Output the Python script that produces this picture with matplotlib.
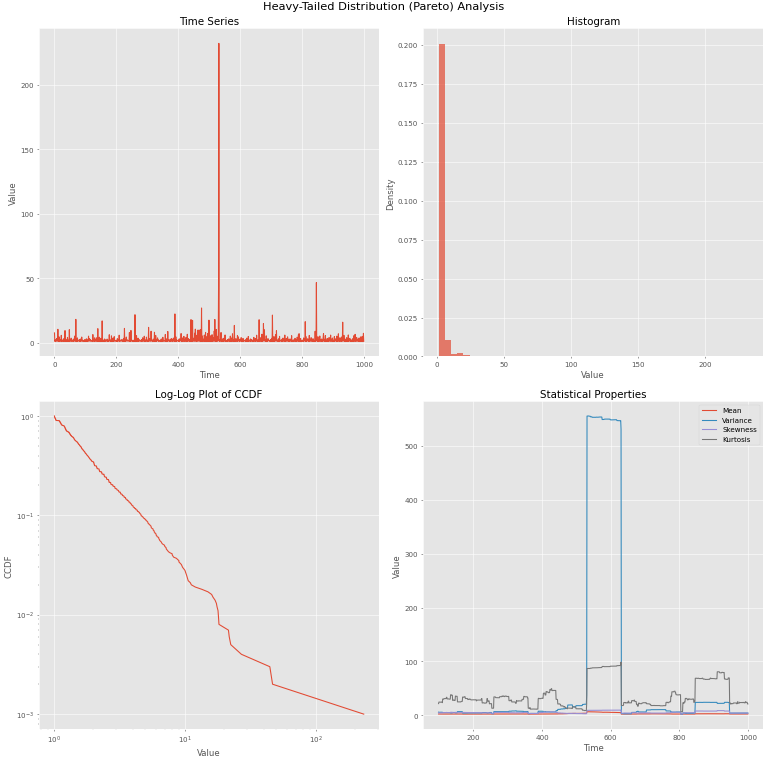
import numpy as np
import pandas as pd
import matplotlib
matplotlib.use("Agg")
import matplotlib.pyplot as plt

plt.style.use("ggplot")

# Values (index = time step)
series_values = [
    7.70, 1.21, 1.03, 2.34, 1.42, 1.12, 1.63, 3.41, 1.74, 1.31, 2.08, 10.50, 1.18, 1.84, 1.46, 4.62, 1.01, 1.55, 2.61, 1.27,
    1.14, 1.36, 5.83, 1.02, 1.72, 2.19, 1.24, 1.58, 1.47, 3.12, 1.11, 1.93, 1.33, 2.72, 9.50, 1.04, 1.22, 1.51, 2.43, 1.38,
    1.62, 1.05, 4.21, 1.29, 1.13, 2.02, 1.88, 1.19, 10.20, 1.41, 1.02, 2.53, 1.54, 1.77, 3.61, 1.25, 1.67, 1.34, 2.24, 1.49,
    1.11, 1.03, 2.91, 1.44, 1.23, 5.24, 1.79, 1.68, 1.32, 18.20, 1.15, 2.31, 1.01, 1.53, 3.82, 1.20, 1.95, 2.14, 1.58, 1.36,
    1.35, 2.63, 1.02, 1.14, 1.91, 1.26, 3.23, 1.43, 4.50, 1.57, 2.12, 1.17, 1.52, 1.83, 1.71, 1.03, 1.30, 2.41, 1.39, 1.66,
    1.04, 1.22, 2.84, 1.10, 3.07, 1.39, 1.01, 1.61, 2.22, 1.28, 5.20, 1.48, 1.73, 3.33, 1.81, 1.19, 2.48, 1.94, 1.45, 1.37,
    1.13, 1.31, 2.04, 1.02, 6.42, 1.24, 1.54, 2.71, 1.76, 1.03, 3.91, 1.64, 1.21, 2.33, 1.59, 1.40, 1.15, 4.02, 1.86, 1.35,
    11.00, 1.05, 2.42, 1.33, 1.11, 4.34, 1.73, 1.02, 2.13, 1.26, 3.52, 1.44, 1.87, 1.16, 17.00, 1.29, 2.62, 1.49, 1.57, 1.20,
    1.83, 1.01, 3.02, 1.23, 1.14, 2.21, 1.38, 1.69, 1.62, 1.32, 2.93, 1.10, 1.59, 1.03, 2.05, 1.25, 1.48, 6.30, 1.41, 1.97,
    2.32, 1.22, 1.43, 1.04, 5.41, 1.13, 1.34, 2.54, 1.02, 3.71, 1.37, 1.74, 1.11, 4.80, 1.66, 2.11, 1.50, 1.27, 1.53, 1.95,
    1.15, 1.42, 1.03, 3.24, 1.21, 1.92, 2.44, 1.78, 1.30, 5.92, 1.12, 1.01, 2.23, 1.62, 1.46, 2.03, 1.56, 1.36, 2.64, 1.86,
    1.23, 1.04, 2.01, 1.53, 3.43, 1.10, 11.20, 1.35, 1.02, 2.74, 1.17, 1.82, 4.51, 1.61, 1.39, 2.32, 1.46, 1.92, 1.67, 1.26,
    1.31, 2.12, 8.00, 1.03, 1.22, 3.14, 1.11, 9.60, 1.52, 2.51, 1.65, 1.24, 1.78, 1.41, 1.01, 2.02, 1.14, 1.70, 1.88, 1.33,
    21.80, 1.12, 2.82, 1.04, 1.44, 5.53, 1.20, 1.02, 2.22, 1.61, 3.63, 1.15, 1.57, 1.37, 2.43, 1.89, 1.23, 1.75, 1.96, 1.47,
    1.03, 1.54, 2.64, 1.22, 1.13, 3.92, 1.68, 1.34, 2.03, 1.38, 5.14, 1.45, 1.01, 2.31, 1.25, 1.81, 1.59, 4.43, 1.12, 1.30,
    2.14, 1.02, 1.21, 1.63, 12.00, 1.11, 2.52, 1.84, 3.32, 1.42, 1.18, 1.51, 9.00, 2.21, 1.36, 1.28, 1.73, 1.01, 1.69, 2.92,
    1.24, 1.64, 1.43, 8.20, 1.10, 2.04, 1.32, 5.71, 1.03, 1.19, 2.73, 1.51, 1.77, 3.84, 1.44, 1.91, 2.33, 1.02, 1.26, 1.85,
    1.56, 1.33, 2.13, 1.38, 1.01, 3.04, 1.64, 1.22, 2.42, 1.05, 4.32, 1.15, 1.40, 2.01, 1.71, 1.79, 1.20, 1.83, 6.50, 1.11,
    1.44, 2.62, 1.03, 1.23, 3.53, 1.14, 8.80, 1.31, 1.62, 2.24, 1.52, 1.99, 1.02, 1.27, 2.91, 1.10, 1.72, 1.87, 3.22, 1.35,
    1.01, 2.33, 1.25, 1.13, 3.73, 1.58, 1.53, 2.03, 1.21, 22.40, 1.04, 1.41, 4.64, 1.12, 2.52, 1.34, 1.93, 1.66, 1.47, 1.84,
    2.11, 1.03, 1.32, 3.13, 1.15, 1.24, 2.71, 1.67, 1.76, 7.20, 1.43, 1.02, 2.22, 1.61, 1.10, 3.94, 1.54, 1.29, 5.02, 1.20,
    1.13, 1.81, 2.41, 1.22, 1.71, 4.23, 1.01, 1.36, 2.02, 6.64, 1.11, 1.54, 1.63, 3.21, 1.39, 2.63, 1.03, 1.45, 1.49, 1.87,
    1.30, 18.00, 1.02, 2.83, 1.23, 4.54, 17.40, 1.12, 2.14, 1.74, 3.62, 1.42, 1.21, 7.50, 1.56, 10.60, 1.63, 1.14, 5.81, 1.03,
    2.01, 1.24, 9.80, 1.68, 4.12, 1.33, 6.82, 10.00, 2.53, 8.60, 1.01, 3.44, 1.22, 10.30, 1.52, 27.00, 1.13, 5.33, 2.21, 1.04,
    1.41, 1.86, 2.92, 1.20, 6.04, 1.11, 1.73, 3.03, 8.10, 1.02, 2.42, 1.31, 4.72, 1.05, 1.24, 7.30, 1.15, 2.04, 1.53, 17.60,
    1.03, 1.22, 3.74, 1.12, 2.62, 5.52, 1.01, 1.34, 2.13, 6.31, 1.10, 1.78, 4.03, 1.62, 2.32, 1.21, 9.20, 1.59, 18.10, 1.43,
    1.14, 2.72, 1.02, 10.40, 1.32, 3.31, 1.23, 1.66, 5.12, 2.03, 44.50, 232.00, 1.11, 1.51, 2.44, 1.89, 1.25, 4.33, 8.00, 1.01,
    1.35, 1.58, 2.23, 1.13, 1.82, 3.54, 1.02, 1.21, 2.94, 1.44, 1.69, 6.12, 1.16, 2.12, 1.95, 1.30, 1.76, 1.42, 1.03, 2.53,
    1.12, 1.61, 1.73, 3.11, 1.24, 2.02, 1.01, 1.42, 5.22, 1.14, 2.61, 1.04, 1.33, 3.83, 1.20, 7.00, 1.48, 2.31, 1.55, 1.84,
    1.02, 13.50, 1.23, 2.43, 1.11, 1.57, 3.24, 1.36, 1.70, 2.14, 1.03, 5.73, 1.21, 1.15, 4.60, 1.91, 2.82, 1.46, 1.01, 1.27,
    2.22, 1.63, 1.32, 4.04, 1.13, 1.52, 2.73, 1.02, 1.22, 3.42, 1.10, 1.93, 1.79, 2.01, 1.64, 1.25, 1.03, 1.41, 2.51, 1.17,
    1.38, 3.63, 1.21, 1.12, 2.32, 1.01, 4.92, 1.34, 1.60, 1.72, 2.11, 1.24, 1.03, 3.02, 1.14, 1.80, 1.43, 2.64, 1.55, 1.28,
    1.11, 1.02, 2.04, 1.30, 4.22, 1.20, 1.67, 2.81, 1.54, 1.13, 3.34, 1.85, 1.23, 5.91, 1.72, 2.23, 1.01, 1.47, 1.37, 2.42,
    1.03, 17.90, 1.22, 2.13, 1.10, 3.92, 1.62, 1.44, 2.52, 1.26, 6.70, 1.02, 1.14, 4.11, 1.31, 15.00, 2.02, 1.76, 10.10, 1.53,
    1.21, 2.33, 1.57, 1.12, 5.44, 1.33, 1.01, 2.93, 1.24, 1.62, 3.21, 1.94, 1.48, 2.03, 1.85, 1.23, 1.02, 1.42, 2.61, 1.13,
    1.69, 1.34, 3.52, 1.11, 21.50, 1.03, 2.22, 1.20, 1.51, 4.81, 1.02, 2.71, 1.14, 1.32, 6.40, 1.82, 2.04, 9.40, 1.22, 1.10,
    1.71, 1.56, 2.42, 1.21, 3.13, 1.12, 1.01, 5.03, 1.30, 2.11, 1.77, 1.43, 1.90, 1.24, 1.03, 2.82, 1.15, 1.63, 3.72, 1.39,
    1.22, 2.01, 1.66, 1.33, 6.03, 1.13, 2.53, 1.02, 1.25, 3.44, 1.52, 1.87, 2.24, 4.63, 1.11, 1.58, 1.36, 2.91, 1.20, 1.01,
    1.14, 3.03, 1.42, 1.73, 2.32, 1.23, 5.54, 1.02, 1.12, 2.04, 1.35, 1.78, 1.03, 1.61, 2.63, 1.21, 1.49, 3.52, 1.16, 1.44,
    1.01, 2.41, 1.24, 1.13, 4.42, 1.64, 1.32, 2.12, 6.33, 1.22, 7.10, 1.03, 1.53, 2.72, 1.10, 3.33, 1.81, 1.21, 1.88, 1.30,
    1.12, 1.59, 2.21, 1.34, 1.02, 3.81, 1.23, 1.41, 2.02, 1.76, 16.40, 1.15, 4.91, 1.03, 2.52, 1.20, 1.62, 3.12, 1.93, 1.46,
    1.31, 2.83, 1.01, 5.72, 1.22, 1.13, 2.11, 1.67, 1.43, 4.02, 1.21, 1.55, 2.43, 1.70, 1.14, 3.23, 1.02, 1.33, 1.92, 1.24,
    1.03, 2.03, 9.00, 1.12, 1.23, 3.62, 46.70, 1.78, 1.32, 2.62, 1.11, 4.73, 1.02, 1.52, 2.23, 1.21, 1.63, 5.32, 1.14, 1.42,
    2.31, 1.84, 1.22, 3.01, 1.13, 1.63, 1.02, 2.13, 4.34, 7.20, 1.24, 1.57, 2.72, 1.31, 1.10, 5.61, 1.03, 1.44, 2.02, 1.20,
    1.68, 3.43, 1.12, 1.23, 2.53, 1.01, 1.51, 4.12, 1.33, 1.79, 2.21, 1.37, 6.02, 1.22, 1.95, 2.92, 1.41, 1.11, 3.74, 1.02,
    1.21, 2.02, 1.03, 1.34, 4.83, 1.13, 2.41, 1.61, 1.72, 3.22, 1.20, 1.01, 5.21, 1.15, 2.12, 1.43, 1.86, 7.00, 1.30, 2.63,
    1.12, 1.02, 3.93, 1.23, 2.32, 1.74, 1.42, 4.52, 1.11, 1.56, 2.81, 16.00, 1.31, 1.89, 2.01, 5.83, 1.22, 1.47, 3.11, 1.01,
    1.53, 2.22, 1.04, 1.21, 4.01, 1.13, 1.32, 2.71, 1.02, 6.13, 1.24, 1.69, 2.03, 1.61, 3.52, 1.10, 1.81, 1.35, 2.42, 1.91,
    1.03, 1.22, 2.12, 1.11, 3.33, 1.01, 1.43, 5.51, 1.20, 2.63, 1.58, 6.60, 1.14, 1.32, 2.04, 1.49, 4.22, 1.25, 1.73, 1.77,
    2.93, 1.12, 1.65, 1.31, 3.82, 1.21, 2.21, 1.02, 1.52, 4.61, 1.13, 1.87, 2.51, 1.23, 5.04, 1.01, 1.42, 2.01, 7.40, 1.10,
]

window = 100
n_bins = 50

data = pd.Series(series_values)

fig, axes = plt.subplots(2, 2, figsize=(15, 14.86), dpi=51.2)
fig.suptitle("Heavy-Tailed Distribution (Pareto) Analysis", fontsize=16,
             y=0.997, va="top")

# Time series
ax = axes[0, 0]
ax.plot(data.index, data.values)
ax.set_title("Time Series")
ax.set_xlabel("Time")
ax.set_ylabel("Value")

# Histogram
ax = axes[0, 1]
ax.hist(data.values, bins=n_bins, density=True, alpha=0.7)
ax.set_title("Histogram")
ax.set_xlabel("Value")
ax.set_ylabel("Density")

# CCDF on log-log axes
ax = axes[1, 0]
sorted_vals = np.sort(data.values)
ccdf = 1 - np.arange(len(sorted_vals)) / len(sorted_vals)
ax.loglog(sorted_vals, ccdf)
ax.set_title("Log-Log Plot of CCDF")
ax.set_xlabel("Value")
ax.set_ylabel("CCDF")

# Rolling statistics
ax = axes[1, 1]
rolling = data.rolling(window=window)
ax.plot(rolling.mean(), color="#E24A33", label="Mean")
ax.plot(rolling.var(), color="#348ABD", label="Variance")
ax.plot(rolling.skew(), color="#988ED5", label="Skewness")
ax.plot(rolling.kurt(), color="#777777", label="Kurtosis")
ax.set_title("Statistical Properties")
ax.set_xlabel("Time")
ax.set_ylabel("Value")
ax.legend()

fig.subplots_adjust(left=0.0508, right=0.9939, top=0.9615, bottom=0.0407,
                    wspace=0.129, hspace=0.136)
plt.savefig("out.png", dpi=51.2)
